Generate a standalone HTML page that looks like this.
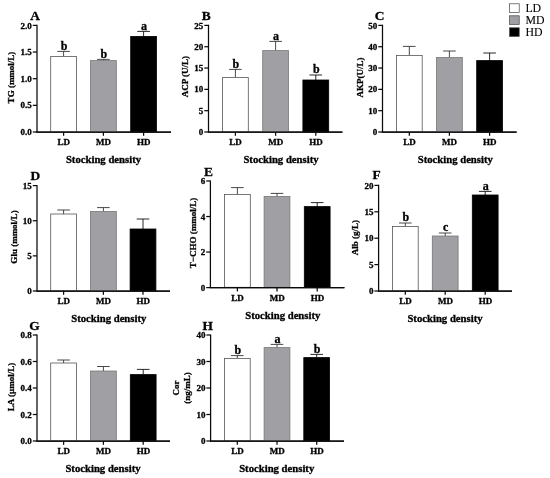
<!DOCTYPE html>
<html><head><meta charset="utf-8"><title>Figure</title>
<style>
html,body{margin:0;padding:0;background:#fff}
svg{display:block}
text{font-family:"Liberation Serif","Times New Roman",serif;fill:#000;stroke:#000;stroke-width:0.3px;paint-order:stroke}
.t{font-size:9px;font-weight:bold}
.x{font-size:10.7px;font-weight:bold}
.l{font-size:12px;font-weight:bold}
.p{font-size:13.4px;font-weight:bold}
.g{font-size:11.8px;stroke-width:0.1px}
</style></head><body>
<svg width="550" height="478" viewBox="0 0 550 478">
<rect width="550" height="478" fill="#fff"/>
<path d="M37 24.799999999999997V132H171" fill="none" stroke="#0a0a0a" stroke-width="1.25"/>
<path d="M32.8 132.00H37" stroke="#0a0a0a" stroke-width="1.25"/>
<text x="31.8" y="135.10" text-anchor="end" class="t">0.0</text>
<path d="M32.8 105.35H37" stroke="#0a0a0a" stroke-width="1.25"/>
<text x="31.8" y="108.45" text-anchor="end" class="t">0.5</text>
<path d="M32.8 78.70H37" stroke="#0a0a0a" stroke-width="1.25"/>
<text x="31.8" y="81.80" text-anchor="end" class="t">1.0</text>
<path d="M32.8 52.05H37" stroke="#0a0a0a" stroke-width="1.25"/>
<text x="31.8" y="55.15" text-anchor="end" class="t">1.5</text>
<path d="M32.8 25.40H37" stroke="#0a0a0a" stroke-width="1.25"/>
<text x="31.8" y="28.50" text-anchor="end" class="t">2.0</text>
<path d="M63.6 56.4V51.4M57.300000000000004 51.4H69.9" stroke="#333" stroke-width="0.9" fill="none"/>
<rect x="50.70" y="56.40" width="25.80" height="75.30" fill="#fff" stroke="#555" stroke-width="0.8"/>
<path d="M63.6 132V135.8" stroke="#0a0a0a" stroke-width="1.25"/>
<text x="63.800000000000004" y="145.2" text-anchor="middle" class="t">LD</text>
<text x="64.1" y="49.60" text-anchor="middle" class="l">b</text>
<path d="M103.4 60.6V59.4M97.10000000000001 59.4H109.7" stroke="#333" stroke-width="0.9" fill="none"/>
<rect x="90.50" y="60.60" width="25.80" height="71.10" fill="#a0a0a4" stroke="#777" stroke-width="0.8"/>
<path d="M103.4 132V135.8" stroke="#0a0a0a" stroke-width="1.25"/>
<text x="103.60000000000001" y="145.2" text-anchor="middle" class="t">MD</text>
<text x="103.9" y="57.60" text-anchor="middle" class="l">b</text>
<path d="M143.6 36.4V31.4M137.29999999999998 31.4H149.9" stroke="#111" stroke-width="0.9" fill="none"/>
<rect x="130.70" y="36.40" width="25.80" height="95.30" fill="#000" stroke="#000" stroke-width="0.8"/>
<path d="M143.6 132V135.8" stroke="#0a0a0a" stroke-width="1.25"/>
<text x="143.79999999999998" y="145.2" text-anchor="middle" class="t">HD</text>
<text x="144.1" y="29.60" text-anchor="middle" class="l">a</text>
<path d="M36.4 132H171" stroke="#0a0a0a" stroke-width="1.25"/>
<text x="30.2" y="20" class="p">A</text>
<text x="103.5" y="162.6" text-anchor="middle" class="x">Stocking density</text>
<text transform="translate(14.2 77.5) rotate(-90)" text-anchor="middle" class="t">TG (mmol/L)</text>
<path d="M208.5 24.799999999999997V132H342.4" fill="none" stroke="#0a0a0a" stroke-width="1.25"/>
<path d="M204.3 132.00H208.5" stroke="#0a0a0a" stroke-width="1.25"/>
<text x="203.3" y="135.10" text-anchor="end" class="t">0</text>
<path d="M204.3 110.68H208.5" stroke="#0a0a0a" stroke-width="1.25"/>
<text x="203.3" y="113.78" text-anchor="end" class="t">5</text>
<path d="M204.3 89.36H208.5" stroke="#0a0a0a" stroke-width="1.25"/>
<text x="203.3" y="92.46" text-anchor="end" class="t">10</text>
<path d="M204.3 68.04H208.5" stroke="#0a0a0a" stroke-width="1.25"/>
<text x="203.3" y="71.14" text-anchor="end" class="t">15</text>
<path d="M204.3 46.72H208.5" stroke="#0a0a0a" stroke-width="1.25"/>
<text x="203.3" y="49.82" text-anchor="end" class="t">20</text>
<path d="M204.3 25.40H208.5" stroke="#0a0a0a" stroke-width="1.25"/>
<text x="203.3" y="28.50" text-anchor="end" class="t">25</text>
<path d="M235.4 77.6V69.4M229.1 69.4H241.70000000000002" stroke="#333" stroke-width="0.9" fill="none"/>
<rect x="222.50" y="77.60" width="25.80" height="54.10" fill="#fff" stroke="#555" stroke-width="0.8"/>
<path d="M235.4 132V135.8" stroke="#0a0a0a" stroke-width="1.25"/>
<text x="235.6" y="145.2" text-anchor="middle" class="t">LD</text>
<text x="235.9" y="67.60" text-anchor="middle" class="l">b</text>
<path d="M275.6 50.6V41.4M269.3 41.4H281.90000000000003" stroke="#333" stroke-width="0.9" fill="none"/>
<rect x="262.70" y="50.60" width="25.80" height="81.10" fill="#a0a0a4" stroke="#777" stroke-width="0.8"/>
<path d="M275.6 132V135.8" stroke="#0a0a0a" stroke-width="1.25"/>
<text x="275.8" y="145.2" text-anchor="middle" class="t">MD</text>
<text x="276.1" y="39.60" text-anchor="middle" class="l">a</text>
<path d="M315.8 80V75M309.5 75H322.1" stroke="#111" stroke-width="0.9" fill="none"/>
<rect x="302.90" y="80.00" width="25.80" height="51.70" fill="#000" stroke="#000" stroke-width="0.8"/>
<path d="M315.8 132V135.8" stroke="#0a0a0a" stroke-width="1.25"/>
<text x="316.0" y="145.2" text-anchor="middle" class="t">HD</text>
<text x="316.3" y="73.20" text-anchor="middle" class="l">b</text>
<path d="M207.9 132H342.4" stroke="#0a0a0a" stroke-width="1.25"/>
<text x="201.7" y="20" class="p">B</text>
<text x="281" y="162.6" text-anchor="middle" class="x">Stocking density</text>
<text transform="translate(188.4 76.7) rotate(-90)" text-anchor="middle" class="t">ACP (U/L)</text>
<path d="M382.5 24.799999999999997V132H516.6" fill="none" stroke="#0a0a0a" stroke-width="1.25"/>
<path d="M378.3 132.00H382.5" stroke="#0a0a0a" stroke-width="1.25"/>
<text x="377.3" y="135.10" text-anchor="end" class="t">0</text>
<path d="M378.3 110.68H382.5" stroke="#0a0a0a" stroke-width="1.25"/>
<text x="377.3" y="113.78" text-anchor="end" class="t">10</text>
<path d="M378.3 89.36H382.5" stroke="#0a0a0a" stroke-width="1.25"/>
<text x="377.3" y="92.46" text-anchor="end" class="t">20</text>
<path d="M378.3 68.04H382.5" stroke="#0a0a0a" stroke-width="1.25"/>
<text x="377.3" y="71.14" text-anchor="end" class="t">30</text>
<path d="M378.3 46.72H382.5" stroke="#0a0a0a" stroke-width="1.25"/>
<text x="377.3" y="49.82" text-anchor="end" class="t">40</text>
<path d="M378.3 25.40H382.5" stroke="#0a0a0a" stroke-width="1.25"/>
<text x="377.3" y="28.50" text-anchor="end" class="t">50</text>
<path d="M409.3 55.4V46.4M403.0 46.4H415.6" stroke="#333" stroke-width="0.9" fill="none"/>
<rect x="396.40" y="55.40" width="25.80" height="76.30" fill="#fff" stroke="#555" stroke-width="0.8"/>
<path d="M409.3 132V135.8" stroke="#0a0a0a" stroke-width="1.25"/>
<text x="409.5" y="145.2" text-anchor="middle" class="t">LD</text>
<path d="M449.4 57.4V51M443.09999999999997 51H455.7" stroke="#333" stroke-width="0.9" fill="none"/>
<rect x="436.50" y="57.40" width="25.80" height="74.30" fill="#a0a0a4" stroke="#777" stroke-width="0.8"/>
<path d="M449.4 132V135.8" stroke="#0a0a0a" stroke-width="1.25"/>
<text x="449.59999999999997" y="145.2" text-anchor="middle" class="t">MD</text>
<path d="M489.6 60.6V53M483.3 53H495.90000000000003" stroke="#111" stroke-width="0.9" fill="none"/>
<rect x="476.70" y="60.60" width="25.80" height="71.10" fill="#000" stroke="#000" stroke-width="0.8"/>
<path d="M489.6 132V135.8" stroke="#0a0a0a" stroke-width="1.25"/>
<text x="489.8" y="145.2" text-anchor="middle" class="t">HD</text>
<path d="M381.9 132H516.6" stroke="#0a0a0a" stroke-width="1.25"/>
<text x="374.7" y="20" class="p">C</text>
<text x="455.3" y="162.6" text-anchor="middle" class="x">Stocking density</text>
<text transform="translate(363 77.5) rotate(-90)" text-anchor="middle" class="t">AKP(U/L)</text>
<path d="M37 185.0V291H170" fill="none" stroke="#0a0a0a" stroke-width="1.25"/>
<path d="M32.8 291.00H37" stroke="#0a0a0a" stroke-width="1.25"/>
<text x="31.8" y="294.10" text-anchor="end" class="t">0</text>
<path d="M32.8 255.87H37" stroke="#0a0a0a" stroke-width="1.25"/>
<text x="31.8" y="258.97" text-anchor="end" class="t">5</text>
<path d="M32.8 220.73H37" stroke="#0a0a0a" stroke-width="1.25"/>
<text x="31.8" y="223.83" text-anchor="end" class="t">10</text>
<path d="M32.8 185.60H37" stroke="#0a0a0a" stroke-width="1.25"/>
<text x="31.8" y="188.70" text-anchor="end" class="t">15</text>
<path d="M63.6 214V210M57.300000000000004 210H69.9" stroke="#333" stroke-width="0.9" fill="none"/>
<rect x="50.70" y="214.00" width="25.80" height="76.70" fill="#fff" stroke="#555" stroke-width="0.8"/>
<path d="M63.6 291V294.8" stroke="#0a0a0a" stroke-width="1.25"/>
<text x="63.800000000000004" y="304.2" text-anchor="middle" class="t">LD</text>
<path d="M103.4 211.4V207.6M97.10000000000001 207.6H109.7" stroke="#333" stroke-width="0.9" fill="none"/>
<rect x="90.50" y="211.40" width="25.80" height="79.30" fill="#a0a0a4" stroke="#777" stroke-width="0.8"/>
<path d="M103.4 291V294.8" stroke="#0a0a0a" stroke-width="1.25"/>
<text x="103.60000000000001" y="304.2" text-anchor="middle" class="t">MD</text>
<path d="M143 229V219M136.7 219H149.3" stroke="#111" stroke-width="0.9" fill="none"/>
<rect x="130.10" y="229.00" width="25.80" height="61.70" fill="#000" stroke="#000" stroke-width="0.8"/>
<path d="M143 291V294.8" stroke="#0a0a0a" stroke-width="1.25"/>
<text x="143.2" y="304.2" text-anchor="middle" class="t">HD</text>
<path d="M36.4 291H170" stroke="#0a0a0a" stroke-width="1.25"/>
<text x="30.6" y="180" class="p">D</text>
<text x="108.8" y="321.6" text-anchor="middle" class="x">Stocking density</text>
<text transform="translate(17.2 237) rotate(-90)" text-anchor="middle" class="t">Glu (mmol/L)</text>
<path d="M210.4 180.4V287.6H344.4" fill="none" stroke="#0a0a0a" stroke-width="1.25"/>
<path d="M206.20000000000002 287.60H210.4" stroke="#0a0a0a" stroke-width="1.25"/>
<text x="205.20000000000002" y="290.70" text-anchor="end" class="t">0</text>
<path d="M206.20000000000002 252.07H210.4" stroke="#0a0a0a" stroke-width="1.25"/>
<text x="205.20000000000002" y="255.17" text-anchor="end" class="t">2</text>
<path d="M206.20000000000002 216.53H210.4" stroke="#0a0a0a" stroke-width="1.25"/>
<text x="205.20000000000002" y="219.63" text-anchor="end" class="t">4</text>
<path d="M206.20000000000002 181.00H210.4" stroke="#0a0a0a" stroke-width="1.25"/>
<text x="205.20000000000002" y="184.10" text-anchor="end" class="t">6</text>
<path d="M237.4 194.4V187.6M231.1 187.6H243.70000000000002" stroke="#333" stroke-width="0.9" fill="none"/>
<rect x="224.50" y="194.40" width="25.80" height="92.90" fill="#fff" stroke="#555" stroke-width="0.8"/>
<path d="M237.4 287.6V291.40000000000003" stroke="#0a0a0a" stroke-width="1.25"/>
<text x="237.6" y="300.6" text-anchor="middle" class="t">LD</text>
<path d="M277 196.4V193.4M270.7 193.4H283.3" stroke="#333" stroke-width="0.9" fill="none"/>
<rect x="264.10" y="196.40" width="25.80" height="90.90" fill="#a0a0a4" stroke="#777" stroke-width="0.8"/>
<path d="M277 287.6V291.40000000000003" stroke="#0a0a0a" stroke-width="1.25"/>
<text x="277.2" y="300.6" text-anchor="middle" class="t">MD</text>
<path d="M317.2 206.6V202.6M310.9 202.6H323.5" stroke="#111" stroke-width="0.9" fill="none"/>
<rect x="304.30" y="206.60" width="25.80" height="80.70" fill="#000" stroke="#000" stroke-width="0.8"/>
<path d="M317.2 287.6V291.40000000000003" stroke="#0a0a0a" stroke-width="1.25"/>
<text x="317.4" y="300.6" text-anchor="middle" class="t">HD</text>
<path d="M209.8 287.6H344.4" stroke="#0a0a0a" stroke-width="1.25"/>
<text x="204.1" y="176" class="p">E</text>
<text x="282.8" y="318.6" text-anchor="middle" class="x">Stocking density</text>
<text transform="translate(195.6 233) rotate(-90)" text-anchor="middle" class="t">T−CHO (mmol/L)</text>
<path d="M378.6 184.8V291H512" fill="none" stroke="#0a0a0a" stroke-width="1.25"/>
<path d="M374.40000000000003 291.00H378.6" stroke="#0a0a0a" stroke-width="1.25"/>
<text x="373.40000000000003" y="294.10" text-anchor="end" class="t">0</text>
<path d="M374.40000000000003 264.60H378.6" stroke="#0a0a0a" stroke-width="1.25"/>
<text x="373.40000000000003" y="267.70" text-anchor="end" class="t">5</text>
<path d="M374.40000000000003 238.20H378.6" stroke="#0a0a0a" stroke-width="1.25"/>
<text x="373.40000000000003" y="241.30" text-anchor="end" class="t">10</text>
<path d="M374.40000000000003 211.80H378.6" stroke="#0a0a0a" stroke-width="1.25"/>
<text x="373.40000000000003" y="214.90" text-anchor="end" class="t">15</text>
<path d="M374.40000000000003 185.40H378.6" stroke="#0a0a0a" stroke-width="1.25"/>
<text x="373.40000000000003" y="188.50" text-anchor="end" class="t">20</text>
<path d="M405.3 226.4V223M399.0 223H411.6" stroke="#333" stroke-width="0.9" fill="none"/>
<rect x="392.40" y="226.40" width="25.80" height="64.30" fill="#fff" stroke="#555" stroke-width="0.8"/>
<path d="M405.3 291V294.8" stroke="#0a0a0a" stroke-width="1.25"/>
<text x="405.5" y="304.2" text-anchor="middle" class="t">LD</text>
<text x="405.8" y="221.20" text-anchor="middle" class="l">b</text>
<path d="M445.2 236V233M438.9 233H451.5" stroke="#333" stroke-width="0.9" fill="none"/>
<rect x="432.30" y="236.00" width="25.80" height="54.70" fill="#a0a0a4" stroke="#777" stroke-width="0.8"/>
<path d="M445.2 291V294.8" stroke="#0a0a0a" stroke-width="1.25"/>
<text x="445.4" y="304.2" text-anchor="middle" class="t">MD</text>
<text x="445.7" y="231.20" text-anchor="middle" class="l">c</text>
<path d="M485.2 195V191.4M478.9 191.4H491.5" stroke="#111" stroke-width="0.9" fill="none"/>
<rect x="472.30" y="195.00" width="25.80" height="95.70" fill="#000" stroke="#000" stroke-width="0.8"/>
<path d="M485.2 291V294.8" stroke="#0a0a0a" stroke-width="1.25"/>
<text x="485.4" y="304.2" text-anchor="middle" class="t">HD</text>
<text x="485.7" y="189.60" text-anchor="middle" class="l">a</text>
<path d="M378.0 291H512" stroke="#0a0a0a" stroke-width="1.25"/>
<text x="372.5" y="179.4" class="p">F</text>
<text x="445" y="321.6" text-anchor="middle" class="x">Stocking density</text>
<text transform="translate(358.4 237.7) rotate(-90)" text-anchor="middle" class="t">Alb (g/L)</text>
<path d="M37 334.4V441H170" fill="none" stroke="#0a0a0a" stroke-width="1.25"/>
<path d="M32.8 441.00H37" stroke="#0a0a0a" stroke-width="1.25"/>
<text x="31.8" y="444.10" text-anchor="end" class="t">0.0</text>
<path d="M32.8 414.50H37" stroke="#0a0a0a" stroke-width="1.25"/>
<text x="31.8" y="417.60" text-anchor="end" class="t">0.2</text>
<path d="M32.8 388.00H37" stroke="#0a0a0a" stroke-width="1.25"/>
<text x="31.8" y="391.10" text-anchor="end" class="t">0.4</text>
<path d="M32.8 361.50H37" stroke="#0a0a0a" stroke-width="1.25"/>
<text x="31.8" y="364.60" text-anchor="end" class="t">0.6</text>
<path d="M32.8 335.00H37" stroke="#0a0a0a" stroke-width="1.25"/>
<text x="31.8" y="338.10" text-anchor="end" class="t">0.8</text>
<path d="M63.6 363V360M57.300000000000004 360H69.9" stroke="#333" stroke-width="0.9" fill="none"/>
<rect x="50.70" y="363.00" width="25.80" height="77.70" fill="#fff" stroke="#555" stroke-width="0.8"/>
<path d="M63.6 441V444.8" stroke="#0a0a0a" stroke-width="1.25"/>
<text x="63.800000000000004" y="454.2" text-anchor="middle" class="t">LD</text>
<path d="M103.4 371V366.5M97.10000000000001 366.5H109.7" stroke="#333" stroke-width="0.9" fill="none"/>
<rect x="90.50" y="371.00" width="25.80" height="69.70" fill="#a0a0a4" stroke="#777" stroke-width="0.8"/>
<path d="M103.4 441V444.8" stroke="#0a0a0a" stroke-width="1.25"/>
<text x="103.60000000000001" y="454.2" text-anchor="middle" class="t">MD</text>
<path d="M143.2 374.6V369.4M136.89999999999998 369.4H149.5" stroke="#111" stroke-width="0.9" fill="none"/>
<rect x="130.30" y="374.60" width="25.80" height="66.10" fill="#000" stroke="#000" stroke-width="0.8"/>
<path d="M143.2 441V444.8" stroke="#0a0a0a" stroke-width="1.25"/>
<text x="143.39999999999998" y="454.2" text-anchor="middle" class="t">HD</text>
<path d="M36.4 441H170" stroke="#0a0a0a" stroke-width="1.25"/>
<text x="29.3" y="330" class="p">G</text>
<text x="103" y="471.6" text-anchor="middle" class="x">Stocking density</text>
<text transform="translate(14.4 387) rotate(-90)" text-anchor="middle" class="t">LA (μmol/L)</text>
<path d="M210.6 334.4V441H344" fill="none" stroke="#0a0a0a" stroke-width="1.25"/>
<path d="M206.4 441.00H210.6" stroke="#0a0a0a" stroke-width="1.25"/>
<text x="205.4" y="444.10" text-anchor="end" class="t">0</text>
<path d="M206.4 414.50H210.6" stroke="#0a0a0a" stroke-width="1.25"/>
<text x="205.4" y="417.60" text-anchor="end" class="t">10</text>
<path d="M206.4 388.00H210.6" stroke="#0a0a0a" stroke-width="1.25"/>
<text x="205.4" y="391.10" text-anchor="end" class="t">20</text>
<path d="M206.4 361.50H210.6" stroke="#0a0a0a" stroke-width="1.25"/>
<text x="205.4" y="364.60" text-anchor="end" class="t">30</text>
<path d="M206.4 335.00H210.6" stroke="#0a0a0a" stroke-width="1.25"/>
<text x="205.4" y="338.10" text-anchor="end" class="t">40</text>
<path d="M237.3 358.4V355.6M231.0 355.6H243.60000000000002" stroke="#333" stroke-width="0.9" fill="none"/>
<rect x="224.40" y="358.40" width="25.80" height="82.30" fill="#fff" stroke="#555" stroke-width="0.8"/>
<path d="M237.3 441V444.8" stroke="#0a0a0a" stroke-width="1.25"/>
<text x="237.5" y="454.2" text-anchor="middle" class="t">LD</text>
<text x="237.8" y="353.80" text-anchor="middle" class="l">b</text>
<path d="M277 347.6V344.4M270.7 344.4H283.3" stroke="#333" stroke-width="0.9" fill="none"/>
<rect x="264.10" y="347.60" width="25.80" height="93.10" fill="#a0a0a4" stroke="#777" stroke-width="0.8"/>
<path d="M277 441V444.8" stroke="#0a0a0a" stroke-width="1.25"/>
<text x="277.2" y="454.2" text-anchor="middle" class="t">MD</text>
<text x="277.5" y="342.60" text-anchor="middle" class="l">a</text>
<path d="M316.7 357.6V354.4M310.4 354.4H323.0" stroke="#111" stroke-width="0.9" fill="none"/>
<rect x="303.80" y="357.60" width="25.80" height="83.10" fill="#000" stroke="#000" stroke-width="0.8"/>
<path d="M316.7 441V444.8" stroke="#0a0a0a" stroke-width="1.25"/>
<text x="316.9" y="454.2" text-anchor="middle" class="t">HD</text>
<text x="317.2" y="352.60" text-anchor="middle" class="l">b</text>
<path d="M210.0 441H344" stroke="#0a0a0a" stroke-width="1.25"/>
<text x="202.6" y="330" class="p">H</text>
<text x="276.7" y="471.6" text-anchor="middle" class="x">Stocking density</text>
<text transform="translate(179.2 388) rotate(-90)" text-anchor="middle" class="t">Cor</text>
<text transform="translate(190.2 388) rotate(-90)" text-anchor="middle" class="t">(ng/mL)</text>
<rect x="509.6" y="3.8" width="9.6" height="8.6" fill="#fff" stroke="#444" stroke-width="0.7"/>
<text x="525.4" y="11.5" class="g">LD</text>
<rect x="509.6" y="15.8" width="9.6" height="8.6" fill="#a0a0a4" stroke="#444" stroke-width="0.7"/>
<text x="525.4" y="23.5" class="g">MD</text>
<rect x="509.6" y="27.8" width="9.6" height="8.6" fill="#000" stroke="#444" stroke-width="0.7"/>
<text x="525.4" y="35.5" class="g">HD</text>
</svg>
</body></html>
